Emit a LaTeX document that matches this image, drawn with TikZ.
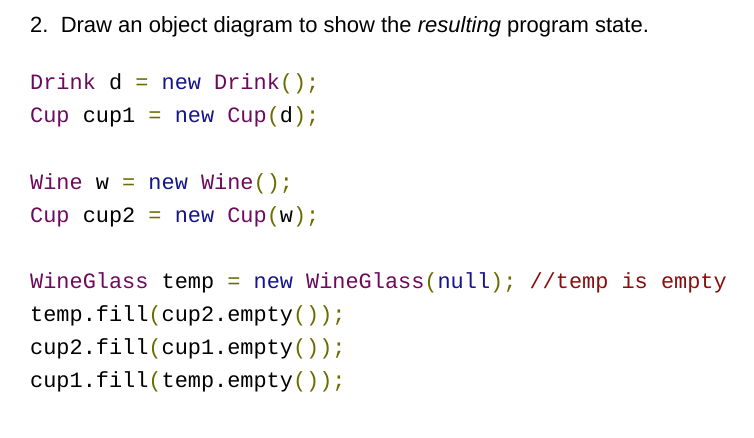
\documentclass[tikz,border=0pt]{standalone}
\usepackage{fontspec}
\setmainfont{Liberation Sans}
\newfontfamily\codefont{Liberation Mono}
\definecolor{ty}{HTML}{6E0A5E}
\definecolor{kw}{HTML}{14148C}
\definecolor{pu}{HTML}{6B6B00}
\definecolor{cm}{HTML}{8B0E0E}
\newcommand{\Ty}[1]{\textcolor{ty}{#1}}
\newcommand{\Kw}[1]{\textcolor{kw}{#1}}
\newcommand{\Pu}[1]{\textcolor{pu}{#1}}
\begin{document}
\begin{tikzpicture}[x=1pt,y=-1pt,
  code/.style={anchor=base west,inner sep=0pt,font=\codefont\fontsize{21.9}{24}\selectfont},
  title/.style={anchor=base west,inner sep=0pt,font=\fontsize{22}{26}\selectfont}]
\useasboundingbox (0,0) rectangle (754,437);
\node[title] (t) at (30,32) {2.\ \ Draw an object diagram to show the \textit{resulting} program state.};
\node[code] (l1) at (30,89) {\Ty{Drink} d \Pu{=} \Kw{new} \Ty{Drink}\Pu{();}};
\node[code] (l2) at (30,122) {\Ty{Cup} cup1 \Pu{=} \Kw{new} \Ty{Cup}\Pu{(}d\Pu{);}};
\node[code] (l3) at (30,189) {\Ty{Wine} w \Pu{=} \Kw{new} \Ty{Wine}\Pu{();}};
\node[code] (l4) at (30,222) {\Ty{Cup} cup2 \Pu{=} \Kw{new} \Ty{Cup}\Pu{(}w\Pu{);}};
\node[code] (l5) at (30,288) {\Ty{WineGlass} temp \Pu{=} \Kw{new} \Ty{WineGlass}\Pu{(}\Kw{null}\Pu{);} \textcolor{cm}{//temp is empty}};
\node[code] (l6) at (30,321) {temp.fill\Pu{(}cup2.empty\Pu{());}};
\node[code] (l7) at (30,354) {cup2.fill\Pu{(}cup1.empty\Pu{());}};
\node[code] (l8) at (30,387) {cup1.fill\Pu{(}temp.empty\Pu{());}};
\end{tikzpicture}
\end{document}
